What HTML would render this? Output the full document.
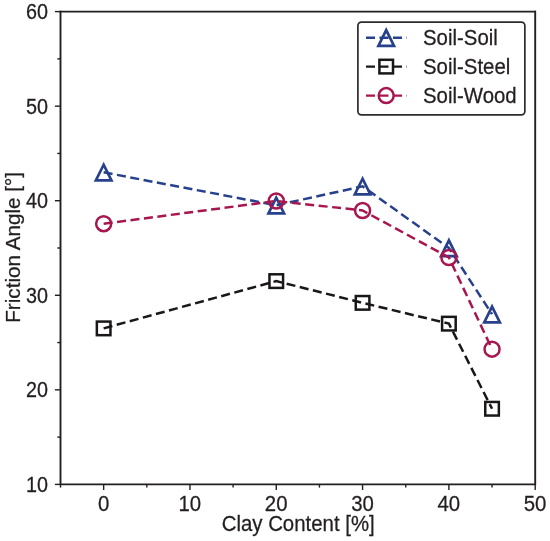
<!DOCTYPE html>
<html lang="en">
<head>
<meta charset="utf-8">
<title>Friction Angle vs Clay Content</title>
<style>
html,body{margin:0;padding:0;background:#fff;}
body{width:550px;height:541px;overflow:hidden;}
svg{display:block;}
text{font-family:"Liberation Sans",Arial,Helvetica,sans-serif;font-size:20.4px;fill:#231f20;stroke:#231f20;stroke-width:0.25px;}
</style>
</head>
<body>
<svg width="550" height="541" viewBox="0 0 550 541">
<rect x="0" y="0" width="550" height="541" fill="#ffffff"/>
<g stroke="#231f20" stroke-width="1.9" stroke-linecap="square" fill="none"><path d="M60.5 11.6 L60.5 484.4 L535.2 484.4 L535.2 11.6"/><path d="M60.5 11.6 L535.2 11.6" stroke-width="1.55"/></g>
<g stroke="#231f20" stroke-width="1.4">
<line x1="60.50" y1="484.4" x2="60.50" y2="487.60"/><line x1="103.65" y1="484.4" x2="103.65" y2="490.00"/><line x1="146.81" y1="484.4" x2="146.81" y2="487.60"/><line x1="189.96" y1="484.4" x2="189.96" y2="490.00"/><line x1="233.12" y1="484.4" x2="233.12" y2="487.60"/><line x1="276.27" y1="484.4" x2="276.27" y2="490.00"/><line x1="319.43" y1="484.4" x2="319.43" y2="487.60"/><line x1="362.58" y1="484.4" x2="362.58" y2="490.00"/><line x1="405.74" y1="484.4" x2="405.74" y2="487.60"/><line x1="448.89" y1="484.4" x2="448.89" y2="490.00"/><line x1="492.05" y1="484.4" x2="492.05" y2="487.60"/><line x1="535.20" y1="484.4" x2="535.20" y2="490.00"/><line x1="60.5" y1="484.40" x2="54.90" y2="484.40"/><line x1="60.5" y1="437.12" x2="57.30" y2="437.12"/><line x1="60.5" y1="389.84" x2="54.90" y2="389.84"/><line x1="60.5" y1="342.56" x2="57.30" y2="342.56"/><line x1="60.5" y1="295.28" x2="54.90" y2="295.28"/><line x1="60.5" y1="248.00" x2="57.30" y2="248.00"/><line x1="60.5" y1="200.72" x2="54.90" y2="200.72"/><line x1="60.5" y1="153.44" x2="57.30" y2="153.44"/><line x1="60.5" y1="106.16" x2="54.90" y2="106.16"/><line x1="60.5" y1="58.88" x2="57.30" y2="58.88"/><line x1="60.5" y1="11.60" x2="54.90" y2="11.60"/>
</g>
<g text-anchor="middle">
<text transform="translate(103.55 510.7) scale(1 1.045)">0</text><text transform="translate(189.86 510.7) scale(1 1.045)">10</text><text transform="translate(276.17 510.7) scale(1 1.045)">20</text><text transform="translate(362.48 510.7) scale(1 1.045)">30</text><text transform="translate(448.79 510.7) scale(1 1.045)">40</text><text transform="translate(535.10 510.7) scale(1 1.045)">50</text>
</g>
<g text-anchor="end">
<text transform="translate(48.0 491.90) scale(0.97 1.045)">10</text><text transform="translate(48.0 397.34) scale(0.97 1.045)">20</text><text transform="translate(48.0 302.78) scale(0.97 1.045)">30</text><text transform="translate(48.0 208.22) scale(0.97 1.045)">40</text><text transform="translate(48.0 113.66) scale(0.97 1.045)">50</text><text transform="translate(48.0 19.10) scale(0.97 1.045)">60</text>
</g>
<text transform="translate(298.2 531.1) scale(1 1.045)" text-anchor="middle">Clay Content [%]</text>
<text transform="translate(20.2 247.35) rotate(-90)" text-anchor="middle" style="font-size:20.7px">Friction Angle [°]</text>
<g stroke="#27418c" fill="none">
<polyline points="103.65,172.35 276.27,205.26 362.58,186.35 448.89,248.00 492.05,314.19" stroke-width="2.5" stroke-dasharray="9.03 4.515"/>
<g stroke-width="2.5" stroke-linejoin="miter"><path stroke-width="2.7" d="M103.65 164.75 L95.85 180.45 L111.45 180.45 Z"/><path stroke-width="2.7" d="M276.27 197.66 L268.47 213.36 L284.07 213.36 Z"/><path stroke-width="2.7" d="M362.58 178.75 L354.78 194.45 L370.38 194.45 Z"/><path stroke-width="2.7" d="M448.89 240.40 L441.09 256.10 L456.69 256.10 Z"/><path stroke-width="2.7" d="M492.05 306.59 L484.25 322.29 L499.85 322.29 Z"/></g>
</g>
<g stroke="#1a1718" fill="none">
<polyline points="103.65,328.38 276.27,281.10 362.58,302.84 448.89,323.65 492.05,408.75" stroke-width="2.5" stroke-dasharray="9.03 4.515"/>
<g stroke-width="2.5" stroke-linejoin="miter"><rect x="96.85" y="321.58" width="13.60" height="13.60"/><rect x="269.47" y="274.30" width="13.60" height="13.60"/><rect x="355.78" y="296.04" width="13.60" height="13.60"/><rect x="442.09" y="316.85" width="13.60" height="13.60"/><rect x="485.25" y="401.95" width="13.60" height="13.60"/></g>
</g>
<g stroke="#a8164f" fill="none">
<polyline points="103.65,223.70 276.27,201.00 362.58,210.46 448.89,257.46 492.05,349.18" stroke-width="2.5" stroke-dasharray="9.03 4.515"/>
<g stroke-width="2.5" stroke-linejoin="miter"><circle cx="103.65" cy="223.70" r="7.50"/><circle cx="276.27" cy="201.00" r="7.50"/><circle cx="362.58" cy="210.46" r="7.50"/><circle cx="448.89" cy="257.46" r="7.50"/><circle cx="492.05" cy="349.18" r="7.50"/></g>
</g>
<rect x="357.9" y="22.1" width="166.95" height="92.7" rx="3.5" ry="3.5" fill="#ffffff" stroke="#2e2b2c" stroke-width="1.7"/>
<g stroke="#27418c" fill="none"><line x1="366.0" y1="37.75" x2="406.9" y2="37.75" stroke-width="2.3" stroke-dasharray="9 4.5"/><g stroke-width="2.5"><path stroke-width="2.7" d="M386.20 30.15 L378.40 45.85 L394.00 45.85 Z"/></g></g>
<text transform="translate(423.0 44.85) scale(1 1.045)">Soil-Soil</text>
<g stroke="#1a1718" fill="none"><line x1="366.0" y1="66.6" x2="406.9" y2="66.6" stroke-width="2.3" stroke-dasharray="9 4.5"/><g stroke-width="2.5"><rect x="379.40" y="59.80" width="13.60" height="13.60"/></g></g>
<text transform="translate(423.0 73.70) scale(1 1.045)">Soil-Steel</text>
<g stroke="#a8164f" fill="none"><line x1="366.0" y1="95.6" x2="406.9" y2="95.6" stroke-width="2.3" stroke-dasharray="9 4.5"/><g stroke-width="2.5"><circle cx="386.20" cy="95.60" r="7.50"/></g></g>
<text transform="translate(423.0 102.70) scale(1 1.045)">Soil-Wood</text>
</svg>
</body>
</html>
